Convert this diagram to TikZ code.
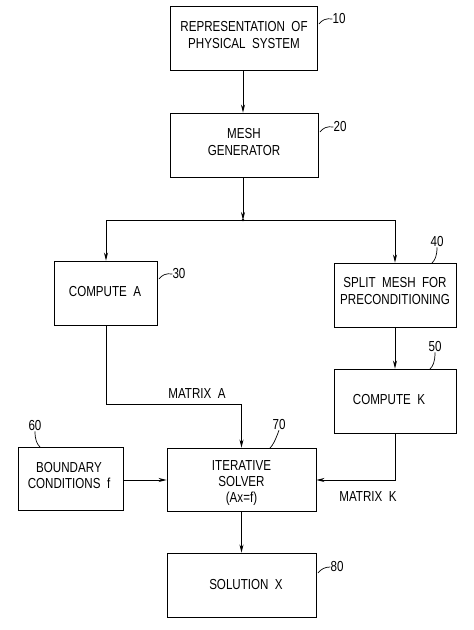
\documentclass[tikz,border=0pt]{standalone}
\usepackage{fontspec}
\setmainfont{Liberation Sans}[FakeStretch=0.8]
\usetikzlibrary{arrows.meta}
\tikzset{
  box/.style={draw, line width=0.9pt, inner sep=0pt},
  txt/.style={inner sep=0pt, align=center, font=\fontsize{14.5}{16.8}\selectfont},
  conn/.style={line width=0.8pt},
  arr/.style={conn, -{Stealth[length=8pt,width=4pt]}},
  lbl/.style={font=\fontsize{14.5}{16.8}\selectfont, inner sep=0pt},
  lead/.style={line width=0.7pt}
}
\begin{document}
\begin{tikzpicture}[x=1pt,y=-1pt]
\useasboundingbox (0,0) rectangle (474,630);
% boxes
\node[box, minimum width=147pt, minimum height=64pt] (b10) at (243.5,38) {};
\node[txt] (t10) at (244,35) {REPRESENTATION~~OF\\PHYSICAL~~SYSTEM};
\node[box, minimum width=148pt, minimum height=64pt] (b20) at (244,145) {};
\node[txt] (t20) at (244,142) {MESH\\GENERATOR};
\node[box, minimum width=103pt, minimum height=64pt] (b30) at (105.5,293) {};
\node[txt] (t30) at (105,292) {COMPUTE~~A};
\node[box, minimum width=122pt, minimum height=64pt] (b40) at (395,295) {};
\node[txt] (t40) at (395,291) {SPLIT~~MESH~~FOR\\PRECONDITIONING};
\node[box, minimum width=122pt, minimum height=64pt] (b50) at (395,401) {};
\node[txt] (t50) at (389,400) {COMPUTE~~K};
\node[box, minimum width=105pt, minimum height=63pt] (b60) at (70.5,478.5) {};
\node[txt] (t60) at (69,475.5) {BOUNDARY\\CONDITIONS~~f};
\node[box, minimum width=149pt, minimum height=63pt] (b70) at (241.5,479.5) {};
\node[txt, font=\fontsize{14.5}{16}\selectfont] (t70) at (241.5,483) {ITERATIVE\\SOLVER\\(Ax=f)};
\node[box, minimum width=149pt, minimum height=64pt] (b80) at (241.5,585) {};
\node[txt] (t80) at (246,584) {SOLUTION~~X};
% junction
\coordinate (j) at (243,220);
\coordinate (jl) at (106,220);
\coordinate (jr) at (395,220);
\fill (j) circle (1.3pt);
% connectors
\draw[arr] (b10.south -| j) -- (b20.north -| j);
\draw[arr] (b20.south -| j) -- (j);
\draw[conn] (jl) -- (jr);
\draw[arr] (jl) -- (b30.north -| jl);
\draw[arr] (jr) -- (b40.north -| jr);
\draw[arr] (b40) -- (b50);
\coordinate (ma1) at (106,404);
\coordinate (ma2) at (241.5,404);
\draw[arr] (b30.south -| ma1) -- (ma1) -- (ma2) -- (b70.north);
\coordinate (mk1) at (395,480);
\draw[arr] (b50.south) -- (mk1) -- (b70.east |- mk1);
\draw[arr] (b60.east |- mk1) -- (b70.west |- mk1);
\draw[arr] (b70) -- (b80);
% connector labels
\node[lbl] (lma) at (197,394) {MATRIX~~A};
\node[lbl] (lmk) at (368,497) {MATRIX~~K};
% reference numerals
\node[lbl] (n10) at (339,19) {10};
\draw[lead] (319,24) .. controls (322,20) and (326,18) .. (n10.west);
\node[lbl] (n20) at (340,127) {20};
\draw[lead] (320,132) .. controls (323,128) and (327,126) .. (n20.west);
\node[lbl] (n30) at (179,274) {30};
\draw[lead] (159,279) .. controls (162,275) and (166,273) .. (n30.west);
\node[lbl] (n40) at (437,242) {40};
\draw[lead] (432,263) .. controls (435,260) and (437,256) .. (n40.south);
\node[lbl] (n50) at (435,347) {50};
\draw[lead] (430,369) .. controls (433,366) and (435,362) .. (n50.south);
\node[lbl] (n60) at (35,426) {60};
\draw[lead] (40,447) .. controls (37,444) and (35,440) .. (n60.south);
\node[lbl] (n70) at (279,425) {70};
\draw[lead] (270,448) .. controls (273,445) and (275,441) .. (n70.south);
\node[lbl] (n80) at (337,567) {80};
\draw[lead] (318,573) .. controls (321,569) and (325,567) .. (n80.west);
\end{tikzpicture}
\end{document}
